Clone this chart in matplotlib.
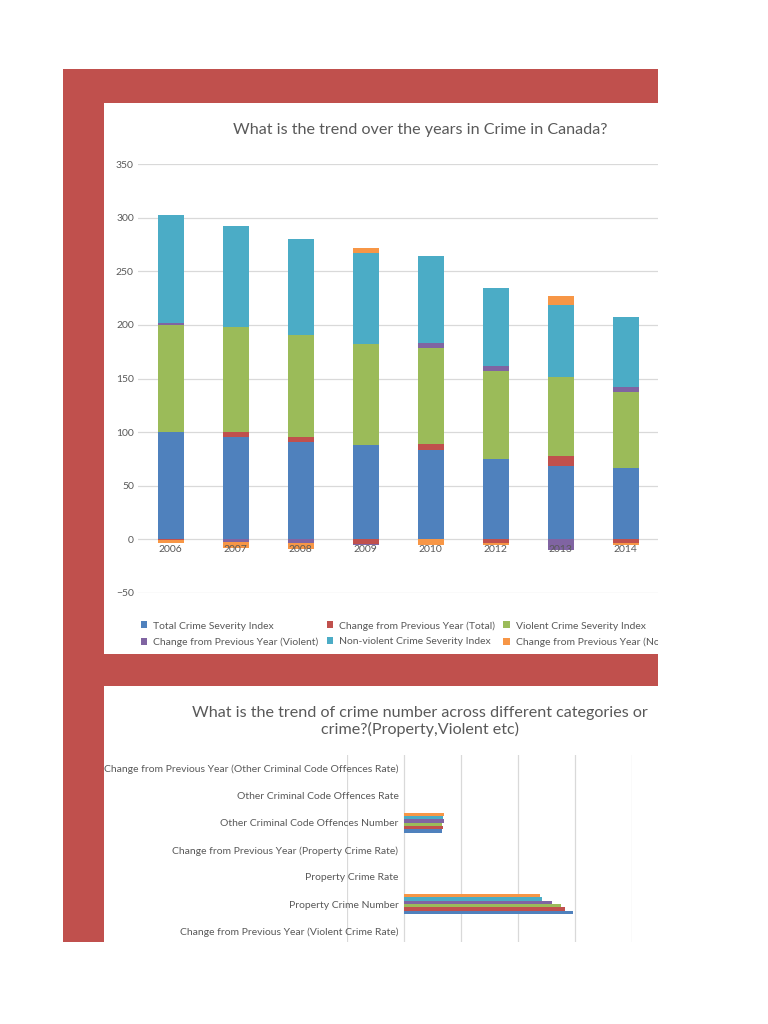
import numpy as np
import matplotlib.pyplot as plt
from matplotlib.patches import Rectangle

plt.rcParams['font.family'] = ['Lato', 'DejaVu Sans']

W, H = 768, 1024

# ---- chart 1: crime severity index by year ----
years = ['2006', '2007', '2008', '2009', '2010', '2012', '2013', '2014']
total_csi = [100, 95.3, 90.6, 87.8, 82.9, 75.4, 68.7, 66.7]
change_total = [-1, 5, 5, -4, 6, -3, 9, -3]
violent_csi = [100, 97.8, 95.1, 94.3, 89.2, 81.9, 74.0, 70.7]
change_violent = [2, -2, -3, -1, 5, 4, -10, 5]
nonviolent_csi = [100, 94.3, 89.0, 85.3, 80.9, 73.3, 67.0, 65.3]
change_nonviolent = [-2, -6, -6, 4, -5, -2, 8, -2]
series1_names = ['Total Crime Severity Index', 'Change from Previous Year (Total)',
                 'Violent Crime Severity Index', 'Change from Previous Year (Violent)',
                 'Non-violent Crime Severity Index', 'Change from Previous Year (Non-violent)']

# ---- chart 2: crime numbers by category (bottom to top, as Excel draws them) ----
categories2 = ['Change from Previous Year (Violent Crime Rate)',
               'Property Crime Number',
               'Property Crime Rate',
               'Change from Previous Year (Property Crime Rate)',
               'Other Criminal Code Offences Number',
               'Other Criminal Code Offences Rate',
               'Change from Previous Year (Other Criminal Code Offences Rate)']
violent_rate_change = [-3, -2, -1, -5, -4, -3]
property_number = [1482000, 1412000, 1383000, 1304000, 1208000, 1193000]
property_rate = [4524, 4243, 4121, 3836, 3520, 3415]
property_rate_change = [-7, -6, -3, -7, -8, -3]
other_number = [338000, 339000, 338000, 348000, 347000, 348000]
other_rate = [1050, 1030, 1010, 1020, 990, 960]
other_rate_change = [0, -2, -2, 1, -3, -3]

colors = ['#4F81BD', '#C0504D', '#9BBB59', '#8064A2', '#4BACC6', '#F79646']
grid_c = '#D9D9D9'
text_c = '#595959'


def fx(x):
    return x / W


def fy(y):
    return 1 - y / H


def frect(x0, y0, x1, y1, color, z):
    # rectangle in pixel coords (top-left origin)
    return Rectangle((fx(x0), fy(y1)), (x1 - x0) / W, (y1 - y0) / H,
                     transform=fig.transFigure, facecolor=color,
                     edgecolor='none', zorder=z)


fig = plt.figure(figsize=(W / 100, H / 100), dpi=100)
fig.patch.set_facecolor('white')

# red frame and white chart areas
fig.add_artist(frect(63, 69, 657.5, 942, '#C0504D', -3))
fig.add_artist(frect(104, 103, 760, 654, 'white', -2))
fig.add_artist(frect(104, 686, 760, 950, 'white', -2))

# ---------------- chart 1 ----------------
ax1 = fig.add_axes([fx(138), fy(593), (658 - 138) / W, (593 - 164) / H])
ax1.set_facecolor('none')
x = np.arange(len(years))
pos = np.zeros(len(years))
neg = np.zeros(len(years))
data1 = [total_csi, change_total, violent_csi, change_violent,
         nonviolent_csi, change_nonviolent]
handles = []
for vals, col, name in zip(data1, colors, series1_names):
    v = np.array(vals, dtype=float)
    bottom = np.where(v >= 0, pos, neg)
    b = ax1.bar(x, v, 0.4, bottom=bottom, color=col, linewidth=0,
                label=name, zorder=2)
    handles.append(b)
    pos += np.clip(v, 0, None)
    neg += np.clip(v, None, 0)

ax1.set_xlim(-0.5, len(years) - 0.5)
ax1.set_ylim(-50, 350)
yt = np.arange(-50, 351, 50)
ax1.set_yticks(yt)
for t in yt:
    ax1.axhline(t, color=grid_c, linewidth=0.9, zorder=0.5)
for s in ['top', 'right', 'left', 'bottom']:
    ax1.spines[s].set_visible(False)
ax1.spines['bottom'].set_position(('data', 0))
ax1.set_xticks(x)
ax1.set_xticklabels(years)
ax1.xaxis.set_zorder(3)  # year labels sit on top of the negative bars
ax1.tick_params(axis='both', length=0, labelsize=7.5, labelcolor=text_c)
ax1.tick_params(axis='x', pad=4)
ax1.tick_params(axis='y', pad=3)

fig.text(fx(420), fy(130), 'What is the trend over the years in Crime in Canada?',
         ha='center', va='center', fontsize=11.6, color=text_c)

order = [0, 3, 1, 4, 2, 5]
fig.legend([handles[i] for i in order], [series1_names[i] for i in order],
           loc='upper left', bbox_to_anchor=(fx(140.5), fy(621)), ncol=3,
           frameon=False, fontsize=7.5, labelcolor=text_c, borderpad=0,
           borderaxespad=0, handlelength=0.65, handleheight=0.65,
           handletextpad=0.55, columnspacing=0.8, labelspacing=0.65)

# ---------------- chart 2 ----------------
ax2 = fig.add_axes([fx(347), fy(1000), (631.7 - 347) / W, (1000 - 755) / H])
ax2.set_facecolor('none')
data2 = np.array([violent_rate_change, property_number, property_rate,
                  property_rate_change, other_number, other_rate,
                  other_rate_change], dtype=float)
n_series = data2.shape[1]
group = 0.74
bh = group / n_series
yc = np.arange(len(categories2))
for j in range(n_series):
    ax2.barh(yc - group / 2 + (j + 0.5) * bh, data2[:, j], bh,
             color=colors[j], linewidth=0, zorder=2)

ax2.set_xlim(-500000, 2000000)
xt = np.arange(-500000, 2000001, 500000)
ax2.set_xticks(xt)
for t in xt:
    ax2.axvline(t, color=grid_c, linewidth=0.9, zorder=0.5)
ax2.set_ylim(6.5 - 245 / 27.1, 6.5)
for s in ['top', 'right', 'bottom', 'left']:
    ax2.spines[s].set_visible(False)
ax2.spines['left'].set_position(('data', 0))
ax2.set_yticks(yc)
ax2.set_yticklabels(categories2)
ax2.yaxis.set_zorder(3)
ax2.tick_params(axis='both', length=0, labelsize=7.5, labelcolor=text_c)
ax2.tick_params(axis='x', labelbottom=False)
ax2.tick_params(axis='y', pad=4)

fig.text(fx(420), fy(721.5),
         'What is the trend of crime number across different categories or\n'
         'crime?(Property,Violent etc)',
         ha='center', va='center', fontsize=11.6, color=text_c, linespacing=1.15)

# page crop: things outside the visible region are covered
fig.add_artist(frect(63, 69, 104, 942, '#C0504D', 10))
fig.add_artist(frect(657.5, 0, 768, 1024, 'white', 11))
fig.add_artist(frect(0, 942, 768, 1024, 'white', 11))

fig.savefig('out.png', dpi=100)
